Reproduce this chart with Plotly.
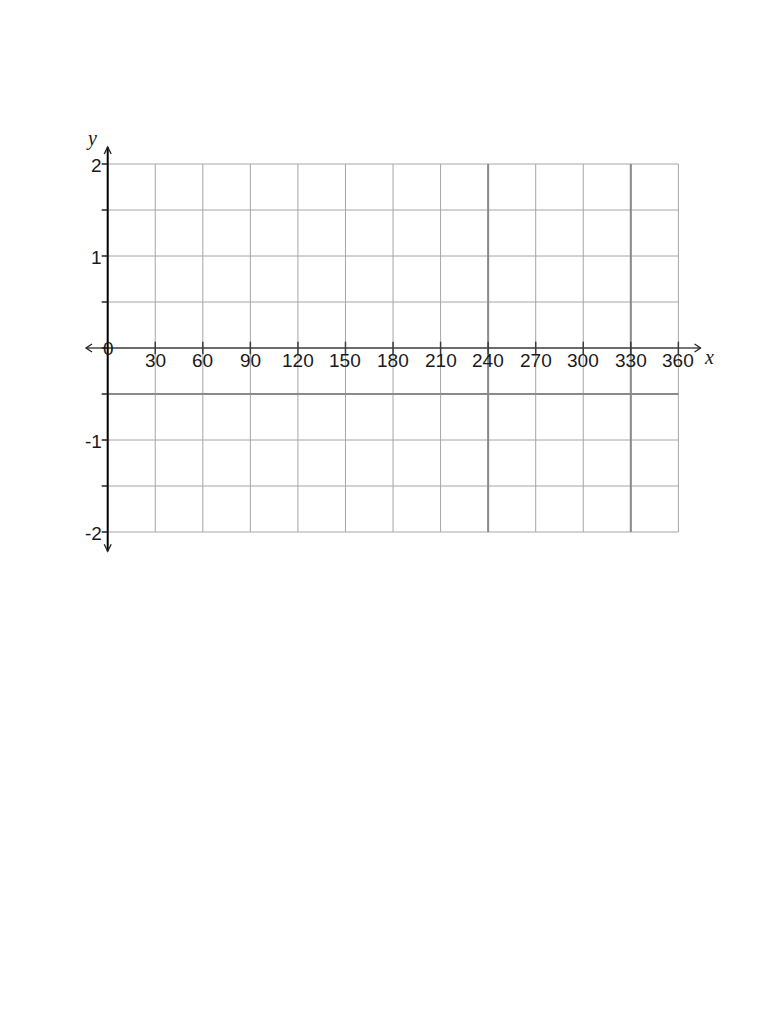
import plotly.graph_objects as go

# ---- data ----
grid_x = [0, 30, 60, 90, 120, 150, 180, 210, 240, 270, 300, 330, 360]
grid_y = [-2, -1.5, -1, -0.5, 0, 0.5, 1, 1.5, 2]
x_tick_vals = [30, 60, 90, 120, 150, 180, 210, 240, 270, 300, 330, 360]
x_tick_text = ["30", "60", "90", "120", "150", "180", "210", "240", "270", "300", "330", "360"]
y_tick_vals = [-2, -1, 1, 2]
y_tick_text = ["-2", "-1", "1", "2"]
dark_x = [240, 330]
dark_y = [-0.5]
x_min, x_max = 0, 360
y_min, y_max = -2, 2
x_axis_ends = [-13.7, 374]
y_axis_ends = [-2.21, 2.185]

GRID = "#a6a6a6"
DARK = "#8a8a8a"
FONT = "Liberation Sans, Arial, sans-serif"
SERIF = "Liberation Serif, Times New Roman, serif"
TXT = "#1a1a1a"

fig = go.Figure()

def vlines(vals, y0, y1):
    xs, ys = [], []
    for v in vals:
        xs += [v, v, None]
        ys += [y0, y1, None]
    return xs, ys

def hlines(vals, x0, x1):
    xs, ys = [], []
    for v in vals:
        xs += [x0, x1, None]
        ys += [v, v, None]
    return xs, ys

# light grid
xs, ys = vlines(grid_x, y_min, y_max)
fig.add_trace(go.Scatter(x=xs, y=ys, mode="lines", line=dict(color=GRID, width=1), hoverinfo="skip"))
xs, ys = hlines(grid_y, x_min, x_max)
fig.add_trace(go.Scatter(x=xs, y=ys, mode="lines", line=dict(color=GRID, width=1), hoverinfo="skip"))
# darker grid lines
xs, ys = vlines(dark_x, y_min, y_max)
fig.add_trace(go.Scatter(x=xs, y=ys, mode="lines", line=dict(color=DARK, width=2), hoverinfo="skip"))
xs, ys = hlines(dark_y, x_min, x_max)
fig.add_trace(go.Scatter(x=xs, y=ys, mode="lines", line=dict(color=DARK, width=2), hoverinfo="skip"))

# x axis
fig.add_trace(go.Scatter(x=x_axis_ends, y=[0, 0], mode="lines",
                         line=dict(color="#4a4a4a", width=1.5), hoverinfo="skip"))
# x ticks
fig.add_trace(go.Scatter(x=grid_x[1:], y=[0] * (len(grid_x) - 1), mode="markers",
                         marker=dict(symbol="line-ns", size=9, line=dict(color="#3c3c3c", width=1.5)),
                         hoverinfo="skip"))
# y axis
fig.add_trace(go.Scatter(x=[0, 0], y=y_axis_ends, mode="lines",
                         line=dict(color="#000000", width=2), hoverinfo="skip"))

shapes = []
# y ticks (to the left of the axis)
for v in grid_y:
    shapes.append(dict(type="line", xref="x", yref="y", xsizemode="pixel", xanchor=0,
                       x0=-6, x1=0, y0=v, y1=v, line=dict(color="#222222", width=1.5)))
# arrow heads
arrow_line = dict(color="#222222", width=1.3)
shapes.append(dict(type="path", xref="x", yref="y", xsizemode="pixel", ysizemode="pixel",
                   xanchor=0, yanchor=y_axis_ends[1], path="M -3.5,-7 L 0,0 L 3.5,-7", line=arrow_line))
shapes.append(dict(type="path", xref="x", yref="y", xsizemode="pixel", ysizemode="pixel",
                   xanchor=0, yanchor=y_axis_ends[0], path="M -3.5,7 L 0,0 L 3.5,7", line=arrow_line))
shapes.append(dict(type="path", xref="x", yref="y", xsizemode="pixel", ysizemode="pixel",
                   xanchor=x_axis_ends[0], yanchor=0, path="M 6,4 L 0,0 L 6,-4", line=arrow_line))
shapes.append(dict(type="path", xref="x", yref="y", xsizemode="pixel", ysizemode="pixel",
                   xanchor=x_axis_ends[1], yanchor=0, path="M -6,4 L 0,0 L -6,-4", line=arrow_line))

annotations = []
for v, t in zip(x_tick_vals, x_tick_text):
    annotations.append(dict(x=v, y=0, text=t, showarrow=False, yshift=-12,
                            font=dict(family=FONT, size=19, color=TXT)))
for v, t in zip(y_tick_vals, y_tick_text):
    annotations.append(dict(x=0, y=v, text=t, showarrow=False, xanchor="right", xshift=-4, yshift=-1.5,
                            font=dict(family=FONT, size=19, color=TXT)))
annotations.append(dict(x=0, y=0, text="0", showarrow=False, xshift=0.5,
                        font=dict(family=FONT, size=19, color=TXT)))
annotations.append(dict(x=x_axis_ends[1], y=0, text="<i>x</i>", showarrow=False, xanchor="left", xshift=1, yshift=-9,
                        font=dict(family=SERIF, size=20, color=TXT)))
annotations.append(dict(x=0, y=y_axis_ends[1], text="<i>y</i>", showarrow=False, xanchor="right", xshift=-9, yshift=8,
                        font=dict(family=SERIF, size=20, color=TXT)))

fig.update_layout(
    width=768, height=1024,
    margin=dict(l=68, r=58, t=110, b=454),
    paper_bgcolor="white", plot_bgcolor="white",
    showlegend=False,
    shapes=shapes, annotations=annotations,
    xaxis=dict(range=[-20, 385], visible=False, fixedrange=True),
    yaxis=dict(range=[-2.5, 2.5], visible=False, fixedrange=True),
)

fig.write_html("out.html")
